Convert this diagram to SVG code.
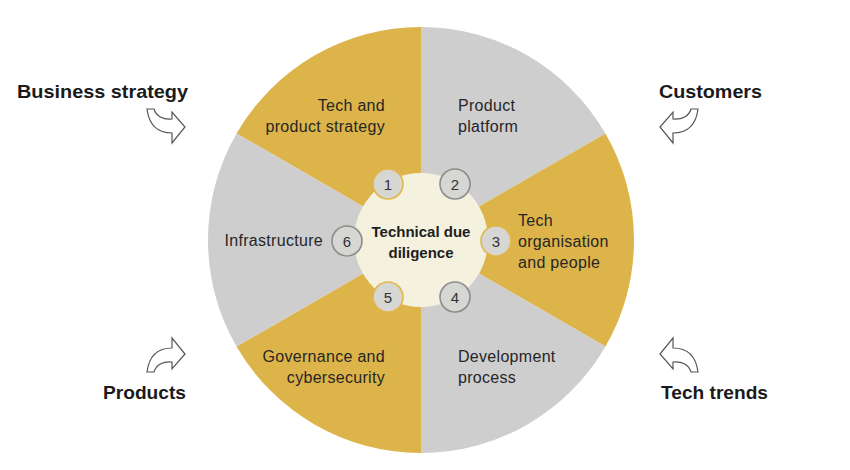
<svg xmlns="http://www.w3.org/2000/svg" width="850" height="470" viewBox="0 0 850 470">
<style>
.gold{fill:#ddb449;}
.gray{fill:#cececf;}
.lbl{font-family:"Liberation Sans",Arial,sans-serif;font-size:16px;fill:#262626;letter-spacing:0.3px;}
.ctr{font-family:"Liberation Sans",Arial,sans-serif;font-size:15px;font-weight:bold;fill:#1e1e1e;}
.num{font-family:"Liberation Sans",Arial,sans-serif;font-size:15px;fill:#333;}
.badge{fill:#d6d6d3;stroke-width:1.6;}
.bg{stroke:#e3b64c;}
.bk{stroke:#8c8c8c;}
.outer{font-family:"Liberation Sans",Arial,sans-serif;font-size:19px;font-weight:bold;fill:#1a1a1a;}
.arrow{fill:#fff;stroke:#555;stroke-width:1.2;stroke-linejoin:miter;}
</style>
<defs>
<path id="arw" d="M147,372 C149,356 157,348 172,348 L172,338 L185,354 L172,369 L172,362 C163,361 156,365 154,372 Z"/>
</defs>

<g id="sector-1">
<path class="gold" d="M421,240 L236.54,133.5 A213,213 0 0 1 421,27 Z"/>
<text class="lbl" text-anchor="end" x="385" y="111">Tech and</text>
<text class="lbl" text-anchor="end" x="385" y="132">product strategy</text>
</g>
<g id="sector-2">
<path class="gray" d="M421,240 L421,27 A213,213 0 0 1 605.46,133.5 Z"/>
<text class="lbl" x="458" y="111">Product</text>
<text class="lbl" x="458" y="132">platform</text>
</g>
<g id="sector-3">
<path class="gold" d="M421,240 L605.46,133.5 A213,213 0 0 1 605.46,346.5 Z"/>
<text class="lbl" x="518" y="226">Tech</text>
<text class="lbl" x="518" y="247">organisation</text>
<text class="lbl" x="518" y="268">and people</text>
</g>
<g id="sector-4">
<path class="gray" d="M421,240 L605.46,346.5 A213,213 0 0 1 421,453 Z"/>
<text class="lbl" x="458" y="362">Development</text>
<text class="lbl" x="458" y="383">process</text>
</g>
<g id="sector-5">
<path class="gold" d="M421,240 L421,453 A213,213 0 0 1 236.54,346.5 Z"/>
<text class="lbl" text-anchor="end" x="385" y="362">Governance and</text>
<text class="lbl" text-anchor="end" x="385" y="383">cybersecurity</text>
</g>
<g id="sector-6">
<path class="gray" d="M421,240 L236.54,346.5 A213,213 0 0 1 236.54,133.5 Z"/>
<text class="lbl" text-anchor="end" x="323" y="246">Infrastructure</text>
</g>

<g id="center">
<circle cx="421" cy="240" r="67" fill="#f4f1df"/>
<text class="ctr" text-anchor="middle" x="421" y="237">Technical due</text>
<text class="ctr" text-anchor="middle" x="421" y="258">diligence</text>
</g>

<g id="badge-1"><circle class="badge bg" cx="388" cy="184" r="15"/><text class="num" text-anchor="middle" x="388" y="189.5">1</text></g>
<g id="badge-2"><circle class="badge bk" cx="455" cy="184" r="15"/><text class="num" text-anchor="middle" x="455" y="189.5">2</text></g>
<g id="badge-3"><circle class="badge bg" cx="496" cy="241" r="15"/><text class="num" text-anchor="middle" x="496" y="246.5">3</text></g>
<g id="badge-4"><circle class="badge bk" cx="455" cy="297" r="15"/><text class="num" text-anchor="middle" x="455" y="302.5">4</text></g>
<g id="badge-5"><circle class="badge bg" cx="388" cy="297" r="15"/><text class="num" text-anchor="middle" x="388" y="302.5">5</text></g>
<g id="badge-6"><circle class="badge bk" cx="347" cy="241" r="15"/><text class="num" text-anchor="middle" x="347" y="246.5">6</text></g>

<g id="business-strategy"><text class="outer" x="17" y="98" textLength="171" lengthAdjust="spacingAndGlyphs">Business strategy</text></g>
<g id="customers"><text class="outer" x="659" y="98" textLength="103" lengthAdjust="spacingAndGlyphs">Customers</text></g>
<g id="products"><text class="outer" x="103" y="399" textLength="83" lengthAdjust="spacingAndGlyphs">Products</text></g>
<g id="tech-trends"><text class="outer" x="661" y="399" textLength="107" lengthAdjust="spacingAndGlyphs">Tech trends</text></g>

<g id="connectors">
<use href="#arw" class="arrow" transform="matrix(1,0,0,-1,0,481)"/>
<use href="#arw" class="arrow" transform="matrix(-1,0,0,-1,845,481)"/>
<use href="#arw" class="arrow"/>
<use href="#arw" class="arrow" transform="matrix(-1,0,0,1,845,0)"/>
</g>
</svg>
